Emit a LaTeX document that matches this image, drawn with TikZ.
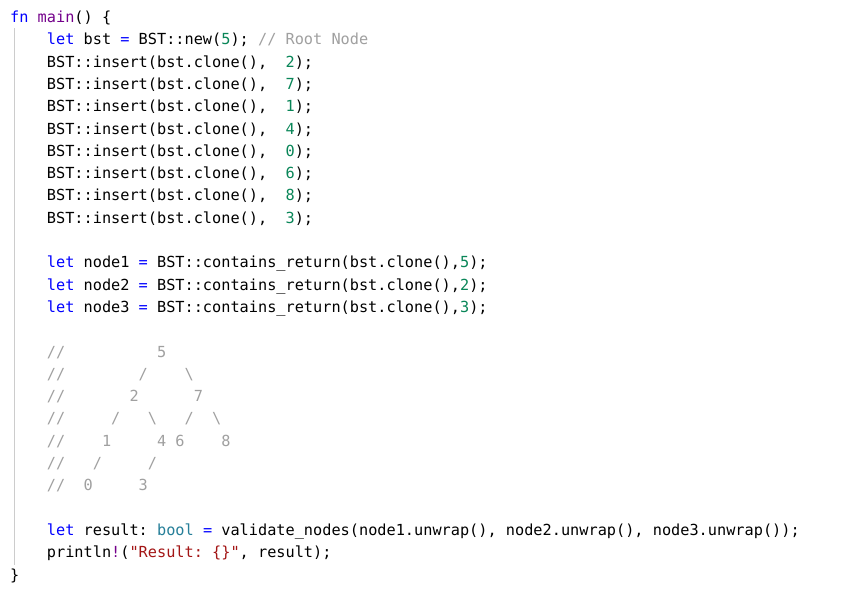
\documentclass[tikz,border=0pt]{standalone}
\usepackage{fontspec}
\setmonofont{DejaVu Sans Mono}
\definecolor{kwblue}{RGB}{0,0,255}
\definecolor{fnpurple}{RGB}{116,0,139}
\definecolor{numgreen}{RGB}{9,134,88}
\definecolor{cmtgray}{RGB}{160,160,160}
\definecolor{strred}{RGB}{163,21,21}
\definecolor{typeteal}{RGB}{38,127,153}
\newcommand\kw[1]{\textcolor{kwblue}{#1}}
\newcommand\nm[1]{\textcolor{numgreen}{#1}}
\newcommand\cm[1]{\textcolor{cmtgray}{#1}}
\tikzset{
  codeline/.style={anchor=west,inner sep=0pt,text height=11pt,text depth=3pt,
    font=\ttfamily\fontsize{15.25}{18}\selectfont}
}
\newcommand\codeat[3]{% indent, line, text
  \node[codeline] (l#2) at (10+9.18*#1,18.5+22.3*#2) {#3};
}
\begin{document}
\begin{tikzpicture}[x=1pt,y=-1pt]
\useasboundingbox[fill=white] (0,0) rectangle (849,603);
\draw[black!20,line width=1pt] (14,28) -- (14,565);
\codeat{0}{0}{\kw{fn} \textcolor{fnpurple}{main}() \{}
\codeat{4}{1}{\kw{let} bst \kw{=} BST::new(\nm{5}); \cm{// Root Node}}
\codeat{4}{2}{BST::insert(bst.clone(),~~\nm{2});}
\codeat{4}{3}{BST::insert(bst.clone(),~~\nm{7});}
\codeat{4}{4}{BST::insert(bst.clone(),~~\nm{1});}
\codeat{4}{5}{BST::insert(bst.clone(),~~\nm{4});}
\codeat{4}{6}{BST::insert(bst.clone(),~~\nm{0});}
\codeat{4}{7}{BST::insert(bst.clone(),~~\nm{6});}
\codeat{4}{8}{BST::insert(bst.clone(),~~\nm{8});}
\codeat{4}{9}{BST::insert(bst.clone(),~~\nm{3});}
\codeat{4}{11}{\kw{let} node1 \kw{=} BST::contains\_return(bst.clone(),\nm{5});}
\codeat{4}{12}{\kw{let} node2 \kw{=} BST::contains\_return(bst.clone(),\nm{2});}
\codeat{4}{13}{\kw{let} node3 \kw{=} BST::contains\_return(bst.clone(),\nm{3});}
\codeat{4}{15}{\cm{//~~~~~~~~~~5}}
\codeat{4}{16}{\cm{//~~~~~~~~/~~~~\textbackslash}}
\codeat{4}{17}{\cm{//~~~~~~~2~~~~~~7}}
\codeat{4}{18}{\cm{//~~~~~/~~~\textbackslash~~~/~~\textbackslash}}
\codeat{4}{19}{\cm{//~~~~1~~~~~4~6~~~~8}}
\codeat{4}{20}{\cm{//~~~/~~~~~/}}
\codeat{4}{21}{\cm{//~~0~~~~~3}}
\codeat{4}{23}{\kw{let} result: \textcolor{typeteal}{bool} \kw{=} validate\_nodes(node1.unwrap(), node2.unwrap(), node3.unwrap());}
\codeat{4}{24}{println\textcolor{fnpurple}{!}(\textcolor{strred}{"Result: \{\}"}, result);}
\codeat{0}{25}{\}}
\end{tikzpicture}
\end{document}
